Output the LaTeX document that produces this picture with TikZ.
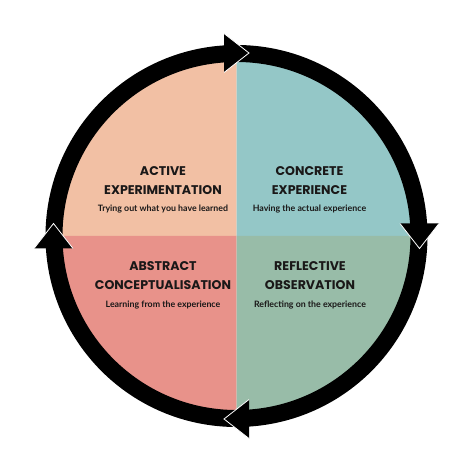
\documentclass[tikz,border=0pt]{standalone}
\usepackage{fontspec}
\newfontfamily\titlefont{Poppins}[UprightFont=* Bold]
\newfontfamily\subfont{Lato}[UprightFont=* Bold]
\definecolor{peach}{RGB}{242,192,164}
\definecolor{teal}{RGB}{148,199,199}
\definecolor{salmon}{RGB}{232,146,138}
\definecolor{sage}{RGB}{152,188,168}
\definecolor{ink}{RGB}{26,24,24}
\tikzset{
  title/.style={align=center, text=ink, font=\titlefont\fontsize{12.6}{19.5}\selectfont, inner sep=0pt, anchor=base},
  subtitle/.style={text=ink, font=\subfont\fontsize{8.8}{10}\selectfont, inner sep=0pt, anchor=base},
}
\begin{document}
\begin{tikzpicture}[x=1pt,y=1pt]
\useasboundingbox[fill=white] (0,0) rectangle (474,453);
\coordinate (c) at (236.5,217);
% quadrants
\fill[peach] (c) -- ++(0,182.5) arc[start angle=90,end angle=180,radius=182.5] -- cycle;
\fill[teal] (c) -- ++(182.5,0) arc[start angle=0,end angle=90,radius=182.5] -- cycle;
\fill[salmon] (c) -- ++(-182.5,0) arc[start angle=180,end angle=270,radius=182.5] -- cycle;
\fill[sage] (c) -- ++(0,-182.5) arc[start angle=270,end angle=360,radius=182.5] -- cycle;
% ring
\draw[black, line width=17] (c) circle[radius=182.5];
% arrowheads
\foreach \r in {0,-90,-180,-270}{
  \begin{scope}[shift={(c)}, rotate=\r]
    \fill[black] (-12.5,163.5) -- (12.5,183) -- (-12.5,202.5) -- cycle;
    \draw[white, line width=0.8, line join=miter] (-12.5,163.5) -- (12.5,183) -- (-12.5,202.5);
  \end{scope}
}
% texts
\node[title] (ae) at (163,258) {ACTIVE\\EXPERIMENTATION};
\node[subtitle] (aes) at (163,241) {Trying out what you have learned};
\node[title] (ce) at (309.5,258) {CONCRETE\\EXPERIENCE};
\node[subtitle] (ces) at (309.5,241) {Having the actual experience};
\node[title] (ac) at (163,163) {ABSTRACT\\CONCEPTUALISATION};
\node[subtitle] (acs) at (163,146) {Learning from the experience};
\node[title] (ro) at (310,163) {REFLECTIVE\\OBSERVATION};
\node[subtitle] (ros) at (310,146) {Reflecting on the experience};
\end{tikzpicture}
\end{document}
